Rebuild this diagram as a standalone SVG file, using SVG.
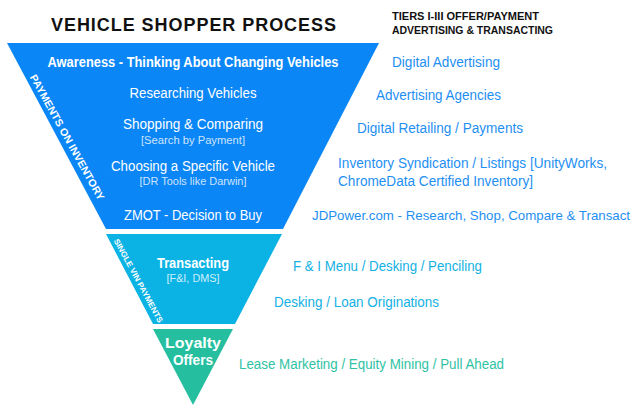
<svg xmlns="http://www.w3.org/2000/svg" width="640" height="414" viewBox="0 0 640 414">
<style>
  text { font-family: "Liberation Sans", Arial, sans-serif; }
  .title { font-weight: bold; font-size: 18px; fill: #111; }
  .sub { font-weight: bold; font-size: 11px; fill: #111; }
  .w { fill: #fff; font-size: 14px; text-anchor: middle; }
  .wb { fill: #fff; font-size: 14px; font-weight: bold; text-anchor: middle; }
  .ws { fill: #fff; fill-opacity: 0.8; font-size: 10px; text-anchor: middle; }
  .rot { fill: #fff; font-weight: bold; text-anchor: middle; }
  .blue { fill: #1e8ff2; font-size: 14px; }
  .cyan { fill: #13b1e3; font-size: 14px; }
  .teal { fill: #2fc2a4; font-size: 14px; }
</style>
<text class="title" x="51" y="31" textLength="285" lengthAdjust="spacing">VEHICLE SHOPPER PROCESS</text>
<text class="sub" x="392" y="20" textLength="147" lengthAdjust="spacingAndGlyphs">TIERS I-III OFFER/PAYMENT</text>
<text class="sub" x="392" y="34" textLength="161" lengthAdjust="spacingAndGlyphs">ADVERTISING &amp; TRANSACTING</text>

<g id="stage-inventory">
  <polygon points="7,43 379,43 283,229 106,229" fill="#0a86f6"/>
  <text class="wb" x="193" y="67" textLength="291" lengthAdjust="spacingAndGlyphs">Awareness - Thinking About Changing Vehicles</text>
  <text class="w" x="193" y="98" textLength="127" lengthAdjust="spacingAndGlyphs">Researching Vehicles</text>
  <text class="w" x="193" y="129" textLength="140" lengthAdjust="spacingAndGlyphs">Shopping &amp; Comparing</text>
  <text class="ws" x="193" y="144" textLength="104" lengthAdjust="spacingAndGlyphs">[Search by Payment]</text>
  <text class="w" x="193" y="171" textLength="164" lengthAdjust="spacingAndGlyphs">Choosing a Specific Vehicle</text>
  <text class="ws" x="193" y="185" textLength="107" lengthAdjust="spacingAndGlyphs">[DR Tools like Darwin]</text>
  <text class="w" x="193" y="220" textLength="138" lengthAdjust="spacingAndGlyphs">ZMOT - Decision to Buy</text>
  <text class="rot" font-size="10.5" transform="translate(64,139) rotate(61)" textLength="142" lengthAdjust="spacingAndGlyphs">PAYMENTS ON INVENTORY</text>
</g>

<g id="stage-transacting">
  <polygon points="106,234 282,234 235,324 153,324" fill="#0bb3e5"/>
  <text class="wb" x="193" y="268" textLength="72" lengthAdjust="spacingAndGlyphs">Transacting</text>
  <text class="ws" x="193" y="282" textLength="53" lengthAdjust="spacingAndGlyphs">[F&amp;I, DMS]</text>
  <text class="rot" font-size="8" transform="translate(136,282) rotate(61.5)" textLength="94" lengthAdjust="spacingAndGlyphs">SINGLE VIN PAYMENTS</text>
</g>

<g id="stage-loyalty">
  <polygon points="153,329 233,329 193,405" fill="#25bf9f"/>
  <text class="wb" x="193" y="348" textLength="56" lengthAdjust="spacingAndGlyphs">Loyalty</text>
  <text class="wb" x="193" y="365" textLength="40" lengthAdjust="spacingAndGlyphs">Offers</text>
</g>

<g id="tier-labels">
  <text class="blue" x="392" y="67" textLength="108" lengthAdjust="spacingAndGlyphs">Digital Advertising</text>
  <text class="blue" x="376" y="100" textLength="125" lengthAdjust="spacingAndGlyphs">Advertising Agencies</text>
  <text class="blue" x="357" y="133" textLength="166" lengthAdjust="spacingAndGlyphs">Digital Retailing / Payments</text>
  <text class="blue" x="338" y="168" textLength="269" lengthAdjust="spacingAndGlyphs">Inventory Syndication / Listings [UnityWorks,</text>
  <text class="blue" x="338" y="186" textLength="195" lengthAdjust="spacingAndGlyphs">ChromeData Certified Inventory]</text>
  <text class="blue" x="312" y="220" font-size="13.5" style="font-size:13.5px" textLength="318" lengthAdjust="spacingAndGlyphs">JDPower.com - Research, Shop, Compare &amp; Transact</text>
  <text class="cyan" x="293" y="271" textLength="189" lengthAdjust="spacingAndGlyphs">F &amp; I Menu / Desking / Penciling</text>
  <text class="cyan" x="274" y="307" textLength="165" lengthAdjust="spacingAndGlyphs">Desking / Loan Originations</text>
  <text class="teal" x="239" y="369" textLength="265" lengthAdjust="spacingAndGlyphs">Lease Marketing / Equity Mining / Pull Ahead</text>
</g>
</svg>
